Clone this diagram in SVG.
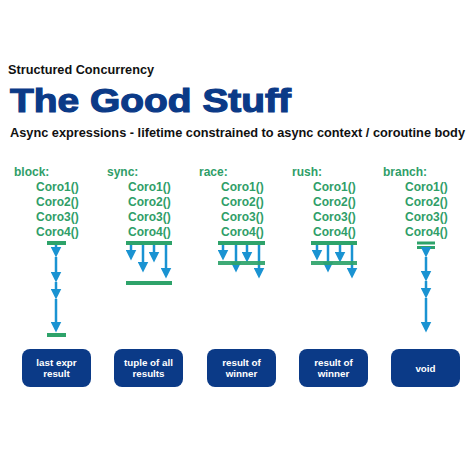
<svg xmlns="http://www.w3.org/2000/svg" width="474" height="474" viewBox="0 0 474 474">
<style>
.hd{font-family:"Liberation Sans",Arial,sans-serif;font-weight:bold}
.g{fill:#2f9e68;font-family:"Liberation Sans",Arial,sans-serif;font-weight:bold;font-size:12px}
.bar{stroke:#2ea36a;stroke-width:4}
.ar{stroke:#1a93d2;stroke-width:2.5;fill:none;marker-end:url(#ah)}
.box{fill:#0b3a87}
.bt{fill:#fff;font-family:"Liberation Sans",Arial,sans-serif;font-weight:bold;font-size:9.8px;text-anchor:middle}
</style>
<defs>
<marker id="ah" markerUnits="userSpaceOnUse" markerWidth="11" markerHeight="11" refX="6.5" refY="5.5" orient="auto" viewBox="0 0 11 11">
<path d="M0,0 L11,5.5 L0,11 z" fill="#1a93d2"/>
</marker>
</defs>
<rect width="474" height="474" fill="#fff"/>
<text class="hd" x="8" y="74" font-size="12.5" fill="#111" textLength="146" lengthAdjust="spacingAndGlyphs">Structured Concurrency</text>
<text class="hd" x="10" y="112" font-size="34" fill="#0b3a87" stroke="#0b3a87" stroke-width="1.2" textLength="281" lengthAdjust="spacingAndGlyphs">The Good Stuff</text>
<text class="hd" x="10" y="137" font-size="12.5" fill="#111" textLength="455" lengthAdjust="spacingAndGlyphs">Async expressions - lifetime constrained to async context / coroutine body</text>

<g id="block">
<text class="g" x="14" y="176">block:</text>
<text class="g" x="36" y="191">Coro1()</text>
<text class="g" x="36" y="206">Coro2()</text>
<text class="g" x="36" y="221">Coro3()</text>
<text class="g" x="36" y="236">Coro4()</text>
<line class="bar" x1="47" y1="243" x2="66" y2="243"/>
<line class="bar" x1="47" y1="335" x2="66" y2="335"/>
</g>
<g id="sync">
<text class="g" x="107" y="176">sync:</text>
<text class="g" x="128" y="191">Coro1()</text>
<text class="g" x="128" y="206">Coro2()</text>
<text class="g" x="128" y="221">Coro3()</text>
<text class="g" x="128" y="236">Coro4()</text>
<line class="bar" x1="126" y1="243" x2="172" y2="243"/>
<line class="bar" x1="126" y1="283" x2="172" y2="283"/>
</g>
<g id="race">
<text class="g" x="199" y="176">race:</text>
<text class="g" x="221" y="191">Coro1()</text>
<text class="g" x="221" y="206">Coro2()</text>
<text class="g" x="221" y="221">Coro3()</text>
<text class="g" x="221" y="236">Coro4()</text>
<line class="bar" x1="218" y1="243" x2="265" y2="243"/>
</g>
<g id="rush">
<text class="g" x="292" y="176">rush:</text>
<text class="g" x="313" y="191">Coro1()</text>
<text class="g" x="313" y="206">Coro2()</text>
<text class="g" x="313" y="221">Coro3()</text>
<text class="g" x="313" y="236">Coro4()</text>
<line class="bar" x1="311" y1="243" x2="357" y2="243"/>
</g>
<g id="branch">
<text class="g" x="383" y="176">branch:</text>
<text class="g" x="405" y="191">Coro1()</text>
<text class="g" x="405" y="206">Coro2()</text>
<text class="g" x="405" y="221">Coro3()</text>
<text class="g" x="405" y="236">Coro4()</text>
<line class="bar" x1="417" y1="243" x2="435" y2="243" style="stroke-width:3"/>
<line class="bar" x1="417" y1="247.5" x2="435" y2="247.5" style="stroke-width:3"/>
</g>

<g id="connectors">
<line class="ar" x1="56" y1="245" x2="56" y2="253"/>
<line class="ar" x1="56" y1="257" x2="56" y2="278"/>
<line class="ar" x1="56" y1="282" x2="56" y2="295"/>
<line class="ar" x1="56" y1="299" x2="56" y2="328"/>

<line class="ar" x1="131" y1="245" x2="131" y2="256"/>
<line class="ar" x1="143" y1="245" x2="143" y2="268"/>
<line class="ar" x1="154" y1="245" x2="154" y2="258"/>
<line class="ar" x1="166" y1="245" x2="166" y2="274"/>

<line class="ar" x1="223" y1="245" x2="223" y2="256"/>
<line class="ar" x1="236" y1="245" x2="236" y2="268"/>
<line class="ar" x1="247" y1="245" x2="247" y2="258"/>
<line class="ar" x1="259" y1="245" x2="259" y2="274"/>

<line class="ar" x1="317" y1="245" x2="317" y2="256"/>
<line class="ar" x1="328" y1="245" x2="328" y2="268"/>
<line class="ar" x1="340" y1="245" x2="340" y2="258"/>
<line class="ar" x1="352" y1="245" x2="352" y2="274"/>

<line class="ar" x1="426" y1="249" x2="426" y2="253"/>
<line class="ar" x1="426" y1="257" x2="426" y2="277"/>
<line class="ar" x1="426" y1="281" x2="426" y2="294"/>
<line class="ar" x1="426" y1="298" x2="426" y2="328"/>
</g>
<g id="race-end"><line class="bar" x1="218" y1="263" x2="265" y2="263" style="stroke-opacity:0.92"/></g>
<g id="rush-end"><line class="bar" x1="311" y1="263" x2="357" y2="263" style="stroke-opacity:0.92"/></g>

<g id="res-block"><rect class="box" x="22" y="349" width="69" height="38" rx="8"/><text class="bt" x="56.5" y="366">last expr</text><text class="bt" x="56.5" y="377">result</text></g>
<g id="res-sync"><rect class="box" x="114" y="349" width="69" height="38" rx="8"/><text class="bt" x="148.5" y="366">tuple of all</text><text class="bt" x="148.5" y="377">results</text></g>
<g id="res-race"><rect class="box" x="207" y="349" width="69" height="38" rx="8"/><text class="bt" x="241.5" y="366">result of</text><text class="bt" x="241.5" y="377">winner</text></g>
<g id="res-rush"><rect class="box" x="299" y="349" width="69" height="38" rx="8"/><text class="bt" x="333.5" y="366">result of</text><text class="bt" x="333.5" y="377">winner</text></g>
<g id="res-branch"><rect class="box" x="391" y="349" width="69" height="38" rx="8"/><text class="bt" x="425.5" y="371.5">void</text></g>
</svg>
